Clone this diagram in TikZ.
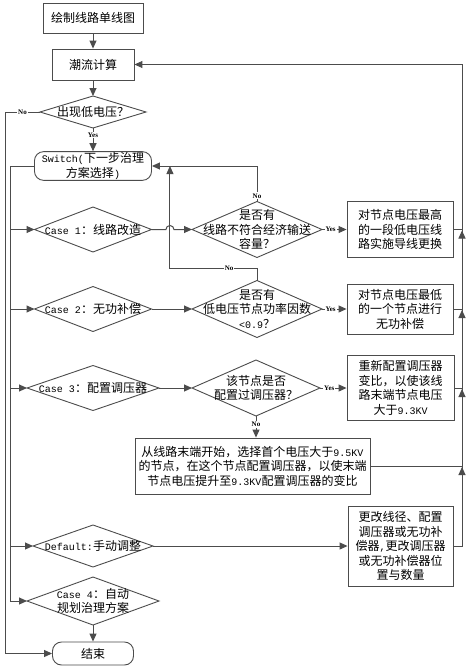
\documentclass[tikz,border=0pt]{standalone}
\usepackage{fontspec}
\setmainfont{Noto Sans CJK SC}
\setmonofont{Liberation Mono}
\newfontfamily\lblfont{Liberation Serif}
\usetikzlibrary{shapes.geometric,arrows.meta,calc}
\definecolor{lc}{gray}{0.3}
\newcommand\latn[1]{{\fontsize{10}{14.5}\selectfont\ttfamily #1}}
\begin{document}
\begin{tikzpicture}[x=1pt,y=-1pt,
  every node/.style={font=\fontsize{12}{14.5}\selectfont},
  box/.style={rectangle, draw=lc, line width=0.9pt, inner sep=1pt, align=center},
  rbox/.style={box, rounded corners=9pt},
  dia/.style={diamond, draw=lc, line width=0.9pt, inner sep=0pt, outer sep=0pt},
  txt/.style={align=center, inner sep=0pt},
  conn/.style={draw=lc, line width=1pt},
  arr/.style={conn, -{Triangle[length=8pt,width=7pt]}},
  lbl/.style={font=\lblfont\bfseries\fontsize{7}{8}\selectfont, fill=white, inner sep=1pt, text=black}]
\useasboundingbox[fill=white] (0,0) rectangle (474,669);

% left column
\node[box, minimum width=100pt, minimum height=30pt] (b1) at (93,18) {绘制线路单线图};
\node[box, minimum width=82pt, minimum height=31pt] (b2) at (93,64.5) {潮流计算};
\node[dia, minimum width=106pt, minimum height=32pt] (q1) at (93,112) {};
\node[txt] (q1t) at (q1) {出现低电压？};
\node[rbox, minimum width=117pt, minimum height=28pt] (sw) at (93,166) {\latn{Switch(}下一步治理\\方案选择\latn{)}};
\node[dia, minimum width=117pt, minimum height=45pt] (c1) at (93,229.5) {};
\node[txt] (c1t) at (c1) {\latn{Case 1}：线路改造};
\node[dia, minimum width=117pt, minimum height=45pt] (c2) at (93,309) {};
\node[txt] (c2t) at (c2) {\latn{Case 2}：无功补偿};
\node[dia, minimum width=132pt, minimum height=45pt] (c3) at (93,388) {};
\node[txt] (c3t) at (c3) {\latn{Case 3}：配置调压器};
\node[dia, minimum width=120pt, minimum height=42pt] (cd) at (93,546) {};
\node[txt] (cdt) at (cd) {\latn{Default:}手动调整};
\node[dia, minimum width=132pt, minimum height=48pt] (c4) at (93,601) {};
\node[txt] (c4t) at (c4) {\latn{Case 4}：自动\\规划治理方案};
\node[rbox, minimum width=81pt, minimum height=23pt] (en) at (93,653.5) {结束};

% middle column
\node[dia, minimum width=130pt, minimum height=56pt] (d1) at (257,229.5) {};
\node[txt] (d1t) at (d1) {是否有\\线路不符合经济输送\\容量？};
\node[dia, minimum width=130pt, minimum height=57pt] (d2) at (257,309) {};
\node[txt] (d2t) at (d2) {是否有\\低电压节点功率因数\\\latn{<0.9}？};
\node[dia, minimum width=128pt, minimum height=56pt] (d3) at (256,388) {};
\node[txt] (d3t) at (d3) {该节点是否\\配置过调压器？};

% right column
\node[box, minimum width=106pt, minimum height=56pt] (r1) at (400,229.5) {对节点电压最高\\的一段低电压线\\路实施导线更换};
\node[box, minimum width=106pt, minimum height=50pt] (r2) at (400,309) {对节点电压最低\\的一个节点进行\\无功补偿};
\node[box, minimum width=107pt, minimum height=65pt] (r3) at (400.5,388) {重新配置调压器\\变比，以使该线\\路末端节点电压\\大于\latn{9.3KV}};
\node[box, minimum width=235pt, minimum height=56pt] (r4) at (252.5,466) {从线路末端开始，选择首个电压大于\latn{9.5KV}\\的节点，在这个节点配置调压器，以使末端\\节点电压提升至\latn{9.3KV}配置调压器的变比};
\node[box, minimum width=105pt, minimum height=80pt] (r5) at (400.5,546) {更改线径、配置\\调压器或无功补\\偿器\latn{,}更改调压器\\或无功补偿器位\\置与数量};

% helper coordinates
\coordinate (nb) at (5,0);
\coordinate (bb) at (10,0);
\coordinate (rx) at (462,64.5);
\path (sw.east) ++(18,0) coordinate (jx);

% main flow
\draw[arr] (b1.south) -- (b2.north);
\draw[arr] (b2.south) -- (q1.north);
\draw[arr] (q1.south) -- node[lbl,pos=0.3]{Yes} (sw.north);
\draw[arr] (q1.west) -- node[lbl]{No} (q1.west -| nb) -- (en.west -| nb) -- (en.west);
\draw[arr] (sw.west) -- (sw.west -| bb) -- (c4.west -| bb) -- (c4.west);
\foreach \n in {c1,c2,c3,cd} \draw[arr] (\n.west -| bb) -- (\n.west);
\draw[arr] (c4.south) -- (en.north);

% cases to decisions
\draw[arr] (c1.east) -- ($(c1.east -| jx)+(-4,0)$) arc[start angle=180,end angle=0,radius=4pt] -- (d1.west);
\draw[arr] (c2.east) -- (d2.west);
\draw[arr] (c3.east) -- (d3.west);
\draw[arr] (cd.east) -- (r5.west);

% decisions
\draw[arr] (d1.east) -- node[lbl,pos=0.35]{Yes} (d1.east -| r1.west);
\draw[arr] (d2.east) -- node[lbl,pos=0.35]{Yes} (d2.east -| r2.west);
\draw[arr] (d3.east) -- node[lbl,pos=0.35]{Yes} (d3.east -| r3.west);
\draw[arr] (d3.south) -- node[lbl,pos=0.4]{No} (d3.south |- r4.north);
\draw[arr] (d1.north) |- node[lbl,pos=0.08]{No} (sw.east);
\draw[arr] (d2.north) -- ++(0,-12) -| node[lbl,pos=0.16]{No} (jx);

% return line
\draw[arr] (r5.east) -- (r5.east -| rx) -- (rx) -- (b2.east);
\foreach \n in {r1,r2,r3,r4} {
  \draw[conn] (\n.east) -- (\n.east -| rx);
  \draw[arr] ($(\n.east -| rx)+(0,10)$) -- ($(\n.east -| rx)+(0,1)$);
}
\end{tikzpicture}
\end{document}
